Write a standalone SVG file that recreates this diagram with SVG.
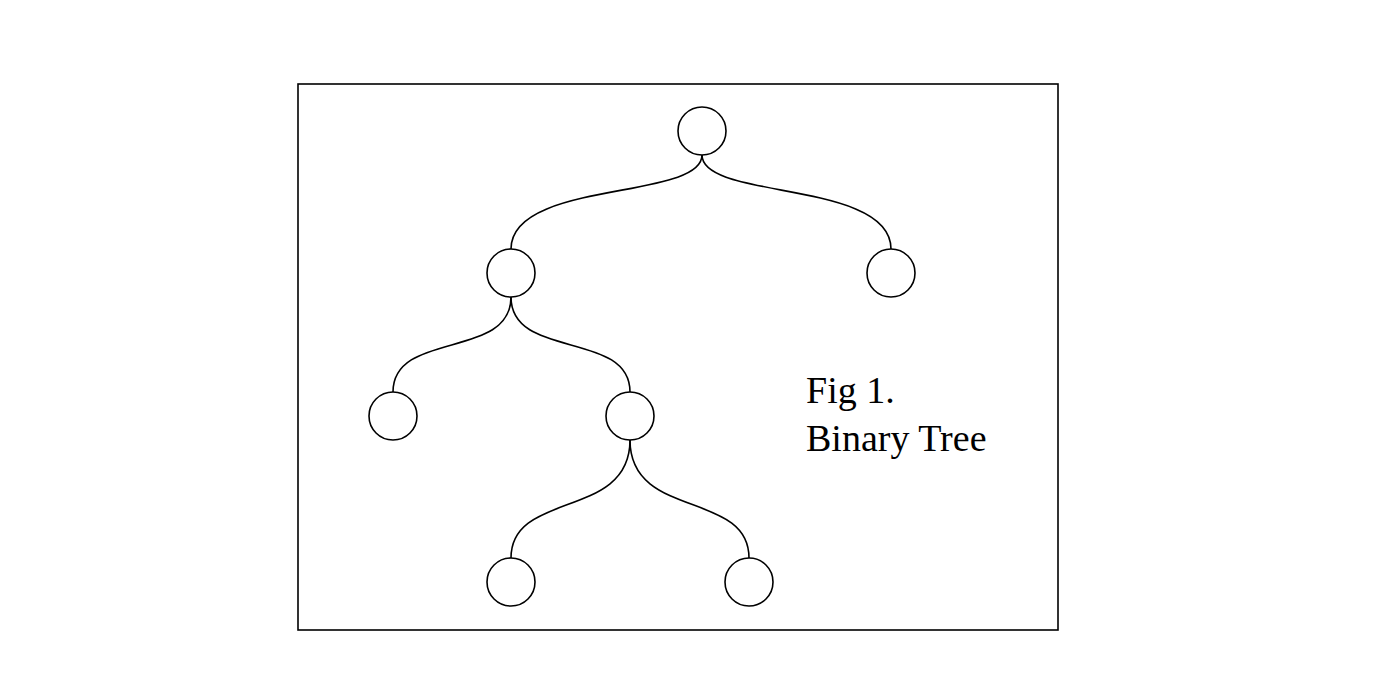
<svg xmlns="http://www.w3.org/2000/svg" width="1380" height="690" viewBox="0 0 1380 690">
<style>
.n{fill:#fff;stroke:#000;stroke-width:1.6}
.e{fill:none;stroke:#000;stroke-width:1.6}
.t{font-family:"Liberation Serif",serif;font-size:38px;fill:#000}
</style>
<rect x="0" y="0" width="1380" height="690" fill="#fff"/>
<rect x="298" y="84" width="760" height="546" fill="none" stroke="#000" stroke-width="1.6"/>
<g id="edges">
<path class="e" d="M702,155 C702,200 511,180 511,249"/>
<path class="e" d="M702,155 C702,200 891,180 891,249"/>
<path class="e" d="M511,297 C511,360 393,330 393,392"/>
<path class="e" d="M511,297 C511,360 630,330 630,392"/>
<path class="e" d="M630,440 C630,520 511,490 511,558"/>
<path class="e" d="M630,440 C630,520 749,490 749,558"/>
</g>
<g id="root"><circle class="n" cx="702" cy="131" r="24"/></g>
<g id="l"><circle class="n" cx="511" cy="273" r="24"/></g>
<g id="r"><circle class="n" cx="891" cy="273" r="24"/></g>
<g id="ll"><circle class="n" cx="393" cy="416" r="24"/></g>
<g id="lr"><circle class="n" cx="630" cy="416" r="24"/></g>
<g id="lrl"><circle class="n" cx="511" cy="582" r="24"/></g>
<g id="lrr"><circle class="n" cx="749" cy="582" r="24"/></g>
<g id="caption">
<text class="t" x="806" y="403">Fig 1.</text>
<text class="t" x="806" y="451">Binary Tree</text>
</g>
</svg>
